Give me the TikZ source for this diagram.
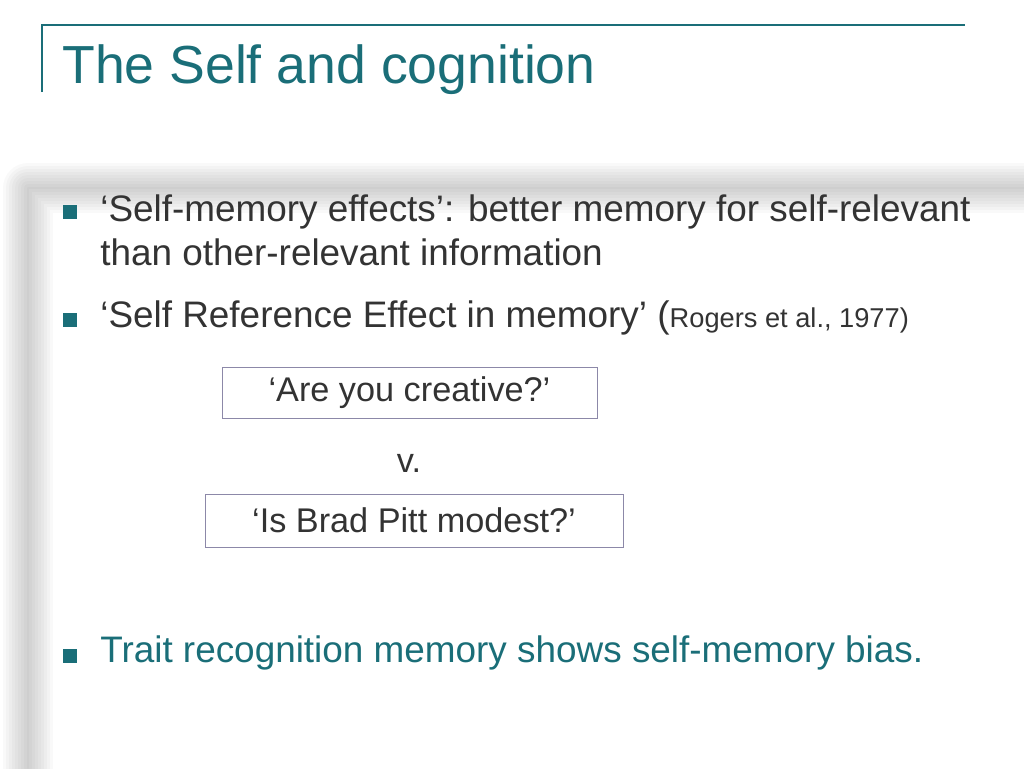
\documentclass[tikz,border=0pt]{standalone}
\usepackage{fontspec}
\setmainfont{Liberation Sans}
\usetikzlibrary{positioning}
\definecolor{teal1}{HTML}{1A6E78}
\definecolor{frame}{HTML}{8C88A8}
\definecolor{body}{HTML}{333333}
\tikzset{
  bullet/.style={fill=teal1, minimum size=8pt, inner sep=0pt},
  item/.style={anchor=west, text=body, font=\fontsize{21}{25}\selectfont, align=left, inner sep=0pt},
  quest/.style={draw=frame, text=body, font=\fontsize{19.5}{23}\selectfont, inner sep=0pt}
}
\begin{document}
\begin{tikzpicture}[x=0.02cm,y=-0.02cm]
\useasboundingbox (0,0) rectangle (1024,768);
% soft shadow of the panel
\foreach \w in {50,44,...,2}
  \draw[line width=\w*0.02cm, black, opacity=0.025, line cap=round, line join=round]
    (28,768) -- (28,188) -- (1024,188);
% title rule
\draw[teal1, line width=0.8pt] (42,92) -- (42,25) -- (965,25);
\node[anchor=west, text=teal1, font=\fontsize{30.5}{36}\selectfont, inner sep=0pt] (title) at (62,70) {The Self and cognition};
% bullets
\node[bullet] (b1) at (70,212) {};
\node[item] (t1) at (100,230) {‘Self-memory effects’: better memory for self-relevant\\than other-relevant information};
\node[bullet] (b2) at (70,320) {};
\node[item] (t2) at (100,318) {‘Self Reference Effect in memory’ ({\fontsize{15.5}{18}\selectfont Rogers et al., 1977)}};
% the two questions
\node[quest, minimum width=375*0.02cm, minimum height=51*0.02cm] (q1) at (409.5,392.5) {‘Are you creative?’};
\node[text=body, font=\fontsize{19.5}{23}\selectfont, inner sep=0pt] (vs) at (409,463) {v.};
\node[quest, minimum width=418*0.02cm, minimum height=53*0.02cm] (q2) at (414,520.5) {‘Is Brad Pitt modest?’};
\node[bullet] (b3) at (70,656) {};
\node[item, text=teal1] (t3) at (100,653) {Trait recognition memory shows self-memory bias.};
\end{tikzpicture}
\end{document}
